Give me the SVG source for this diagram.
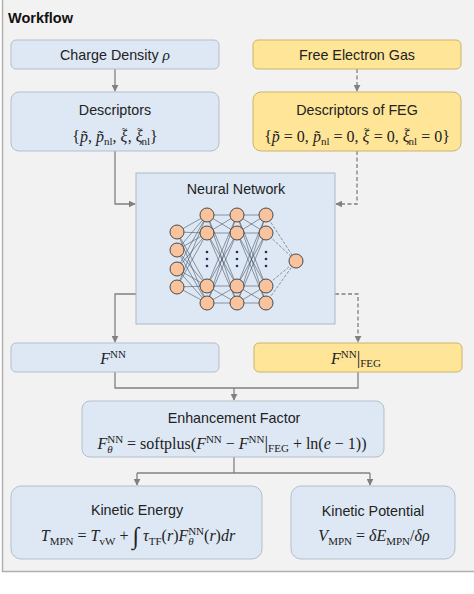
<svg xmlns="http://www.w3.org/2000/svg" width="474" height="594" viewBox="0 0 474 594">
<defs>
<marker id="ah" viewBox="0 0 10 10" refX="9" refY="5" markerWidth="7" markerHeight="7" markerUnits="userSpaceOnUse" orient="auto">
<path d="M0,0L10,5L0,10z" fill="#808080"/>
</marker>
<style>
.blue{fill:#dde8f4;stroke:#b3bfcc;stroke-width:1}
.yel{fill:#fee598;stroke:#ccb36c;stroke-width:1}
.lbl{font-family:"Liberation Sans",Arial,sans-serif;font-size:14.3px;fill:#222;text-anchor:middle}
.math{font-family:"Liberation Serif","Times New Roman",serif;font-size:16px;fill:#222;text-anchor:middle}
.it{font-style:italic}
.sm{font-size:11px}
.tl{font-size:10px}
.con{fill:none;stroke:#808080;stroke-width:1.3}
.dash{stroke-dasharray:4 2.5}
.node{fill:#f9c39e;stroke:#3a3a3a;stroke-width:0.9}
.edge{fill:none;stroke:#3d4a5a;stroke-width:0.55}
.dot{fill:#1f2f5a}
</style>
</defs>
<rect x="2" y="0" width="472" height="571" fill="#f2f2f2"/>
<path d="M2.5,0V571.5H474" fill="none" stroke="#b0b0b0" stroke-width="1.5"/>
<text x="8" y="23" font-family="Liberation Sans,Arial,sans-serif" font-size="14.5" font-weight="bold" fill="#111">Workflow</text>

<g id="connectors">
<path class="con" d="M115,69V91" marker-end="url(#ah)"/>
<path class="con dash" d="M357,69V91" marker-end="url(#ah)"/>
<path class="con" d="M115,151V204H135" marker-end="url(#ah)"/>
<path class="con dash" d="M357,151V204H336" marker-end="url(#ah)"/>
<path class="con" d="M136,294H115V342" marker-end="url(#ah)"/>
<path class="con dash" d="M335,294H358V342" marker-end="url(#ah)"/>
<path class="con" d="M115,372V388H358V372"/>
<path class="con" d="M234,388V400" marker-end="url(#ah)"/>
<path class="con" d="M234,457V473"/>
<path class="con" d="M137,473H370"/>
<path class="con" d="M137,473V485" marker-end="url(#ah)"/>
<path class="con" d="M370,473V485" marker-end="url(#ah)"/>
</g>

<g id="charge-density">
<rect class="blue" x="11" y="40" width="208" height="29" rx="5"/>
<text class="lbl" x="115" y="60">Charge Density <tspan font-family="Liberation Serif,serif" font-style="italic" font-size="15.5">ρ</tspan></text>
</g>
<g id="free-electron-gas">
<rect class="yel" x="253" y="40" width="208" height="29" rx="5"/>
<text class="lbl" x="357" y="60">Free Electron Gas</text>
</g>
<g id="descriptors">
<rect class="blue" x="11" y="92" width="208" height="59" rx="8"/>
<text class="lbl" x="115" y="115">Descriptors</text>
<text class="math" x="115" y="142" font-size="15">{<tspan class="it">p̃</tspan>, <tspan class="it">p̃</tspan><tspan class="sm" dy="3">nl</tspan><tspan dy="-3">, </tspan><tspan class="it">ξ</tspan><tspan class="tl" dx="-5.5" dy="-10">~</tspan><tspan dx="0.5" dy="10">, </tspan><tspan class="it">ξ</tspan><tspan class="tl" dx="-5.5" dy="-10">~</tspan><tspan class="sm" dx="-1" dy="13">nl</tspan><tspan dy="-3">}</tspan></text>
</g>
<g id="descriptors-feg">
<rect class="yel" x="253" y="92" width="208" height="59" rx="8"/>
<text class="lbl" x="357" y="115">Descriptors of FEG</text>
<text class="math" x="357" y="142">{<tspan class="it">p̃</tspan> = 0, <tspan class="it">p̃</tspan><tspan class="sm" dy="3">nl</tspan><tspan dy="-3"> = 0, </tspan><tspan class="it">ξ</tspan><tspan class="tl" dx="-5.5" dy="-10.5">~</tspan><tspan dx="0.5" dy="10.5"> = 0, </tspan><tspan class="it">ξ</tspan><tspan class="tl" dx="-5.5" dy="-10.5">~</tspan><tspan class="sm" dx="-1" dy="13.5">nl</tspan><tspan dy="-3"> = 0}</tspan></text>
</g>

<g id="neural-network">
<rect x="136" y="173" width="199" height="151" fill="#dde8f4" stroke="#a9b8c8" stroke-width="1"/>
<text class="lbl" x="236" y="194">Neural Network</text>
<path class="edge" d="M177,232L207,215M177,232L207,233M177,232L207,286M177,232L207,303M177,250L207,215M177,250L207,233M177,250L207,286M177,250L207,303M177,269L207,215M177,269L207,233M177,269L207,286M177,269L207,303M177,287L207,215M177,287L207,233M177,287L207,286M177,287L207,303"/>
<path class="edge" d="M207,215L237,215M207,215L237,233M207,215L237,286M207,215L237,303M207,233L237,215M207,233L237,233M207,233L237,286M207,233L237,303M207,286L237,215M207,286L237,233M207,286L237,286M207,286L237,303M207,303L237,215M207,303L237,233M207,303L237,286M207,303L237,303"/>
<path class="edge" d="M237,215L266,215M237,215L266,233M237,215L266,286M237,215L266,303M237,233L266,215M237,233L266,233M237,233L266,286M237,233L266,303M237,286L266,215M237,286L266,233M237,286L266,286M237,286L266,303M237,303L266,215M237,303L266,233M237,303L266,286M237,303L266,303"/>
<path class="edge" stroke-dasharray="3 1.5" d="M266,215L296,261M266,233L296,261M266,286L296,261M266,303L296,261"/>
<g>
<circle class="node" cx="177" cy="232" r="7"/><circle class="node" cx="177" cy="250" r="7"/><circle class="node" cx="177" cy="269" r="7"/><circle class="node" cx="177" cy="287" r="7"/>
<circle class="node" cx="207" cy="215" r="7"/><circle class="node" cx="207" cy="233" r="7"/><circle class="node" cx="207" cy="286" r="7"/><circle class="node" cx="207" cy="303" r="7"/>
<circle class="node" cx="237" cy="215" r="7"/><circle class="node" cx="237" cy="233" r="7"/><circle class="node" cx="237" cy="286" r="7"/><circle class="node" cx="237" cy="303" r="7"/>
<circle class="node" cx="266" cy="215" r="7"/><circle class="node" cx="266" cy="233" r="7"/><circle class="node" cx="266" cy="286" r="7"/><circle class="node" cx="266" cy="303" r="7"/>
<circle class="node" cx="296" cy="261" r="7"/>
</g>
<g>
<circle class="dot" cx="207" cy="252" r="1.3"/><circle class="dot" cx="207" cy="259" r="1.3"/><circle class="dot" cx="207" cy="266" r="1.3"/>
<circle class="dot" cx="237" cy="252" r="1.3"/><circle class="dot" cx="237" cy="259" r="1.3"/><circle class="dot" cx="237" cy="266" r="1.3"/>
<circle class="dot" cx="266" cy="252" r="1.3"/><circle class="dot" cx="266" cy="259" r="1.3"/><circle class="dot" cx="266" cy="266" r="1.3"/>
</g>
</g>

<g id="f-nn">
<rect class="blue" x="11" y="343" width="208" height="29" rx="5"/>
<text class="math" x="113" y="364"><tspan class="it">F</tspan><tspan class="sm" dy="-6">NN</tspan></text>
</g>
<g id="f-nn-feg">
<rect class="yel" x="254" y="343" width="208" height="29" rx="5"/>
<text class="math" x="356" y="364"><tspan class="it">F</tspan><tspan class="sm" dy="-6">NN</tspan><tspan dy="6" font-size="18">|</tspan><tspan class="sm" dy="3">FEG</tspan></text>
</g>

<g id="enhancement-factor">
<rect class="blue" x="82" y="401" width="302" height="56" rx="8"/>
<text class="lbl" x="234" y="423">Enhancement Factor</text>
<text class="math" x="232" y="449"><tspan class="it">F</tspan><tspan class="sm it" dy="3.5">θ</tspan><tspan class="sm" dx="-5.5" dy="-9.5">NN</tspan><tspan dy="6"> = softplus(</tspan><tspan class="it">F</tspan><tspan class="sm" dy="-6">NN</tspan><tspan dy="6"> − </tspan><tspan class="it">F</tspan><tspan class="sm" dy="-6">NN</tspan><tspan dy="6" font-size="18">|</tspan><tspan class="sm" dy="3">FEG</tspan><tspan dy="-3"> + ln(</tspan><tspan class="it">e</tspan> − 1))</text>
</g>

<g id="kinetic-energy">
<rect class="blue" x="11" y="486" width="251" height="73" rx="10"/>
<text class="lbl" x="137" y="515">Kinetic Energy</text>
<text class="math" x="138" y="541"><tspan class="it">T</tspan><tspan class="sm" dy="3.5">MPN</tspan><tspan dy="-3.5"> = </tspan><tspan class="it">T</tspan><tspan class="sm" dy="3.5">vW</tspan><tspan dy="-3.5"> + </tspan><tspan font-size="24" dy="3">∫</tspan><tspan dy="-3"> </tspan><tspan class="it">τ</tspan><tspan class="sm" dy="3.5">TF</tspan><tspan dy="-3.5">(</tspan><tspan class="it">r</tspan>)<tspan class="it">F</tspan><tspan class="sm it" dy="3.5">θ</tspan><tspan class="sm" dx="-5.5" dy="-9.5">NN</tspan><tspan dy="6">(</tspan><tspan class="it">r</tspan>)<tspan class="it">dr</tspan></text>
</g>

<g id="kinetic-potential">
<rect class="blue" x="291" y="486" width="164" height="73" rx="10"/>
<text class="lbl" x="373" y="516">Kinetic Potential</text>
<text class="math" x="374" y="541"><tspan class="it">V</tspan><tspan class="sm" dy="3.5">MPN</tspan><tspan dy="-3.5"> = </tspan><tspan class="it">δE</tspan><tspan class="sm" dy="3.5">MPN</tspan><tspan dy="-3.5">/</tspan><tspan class="it">δρ</tspan></text>
</g>
</svg>
